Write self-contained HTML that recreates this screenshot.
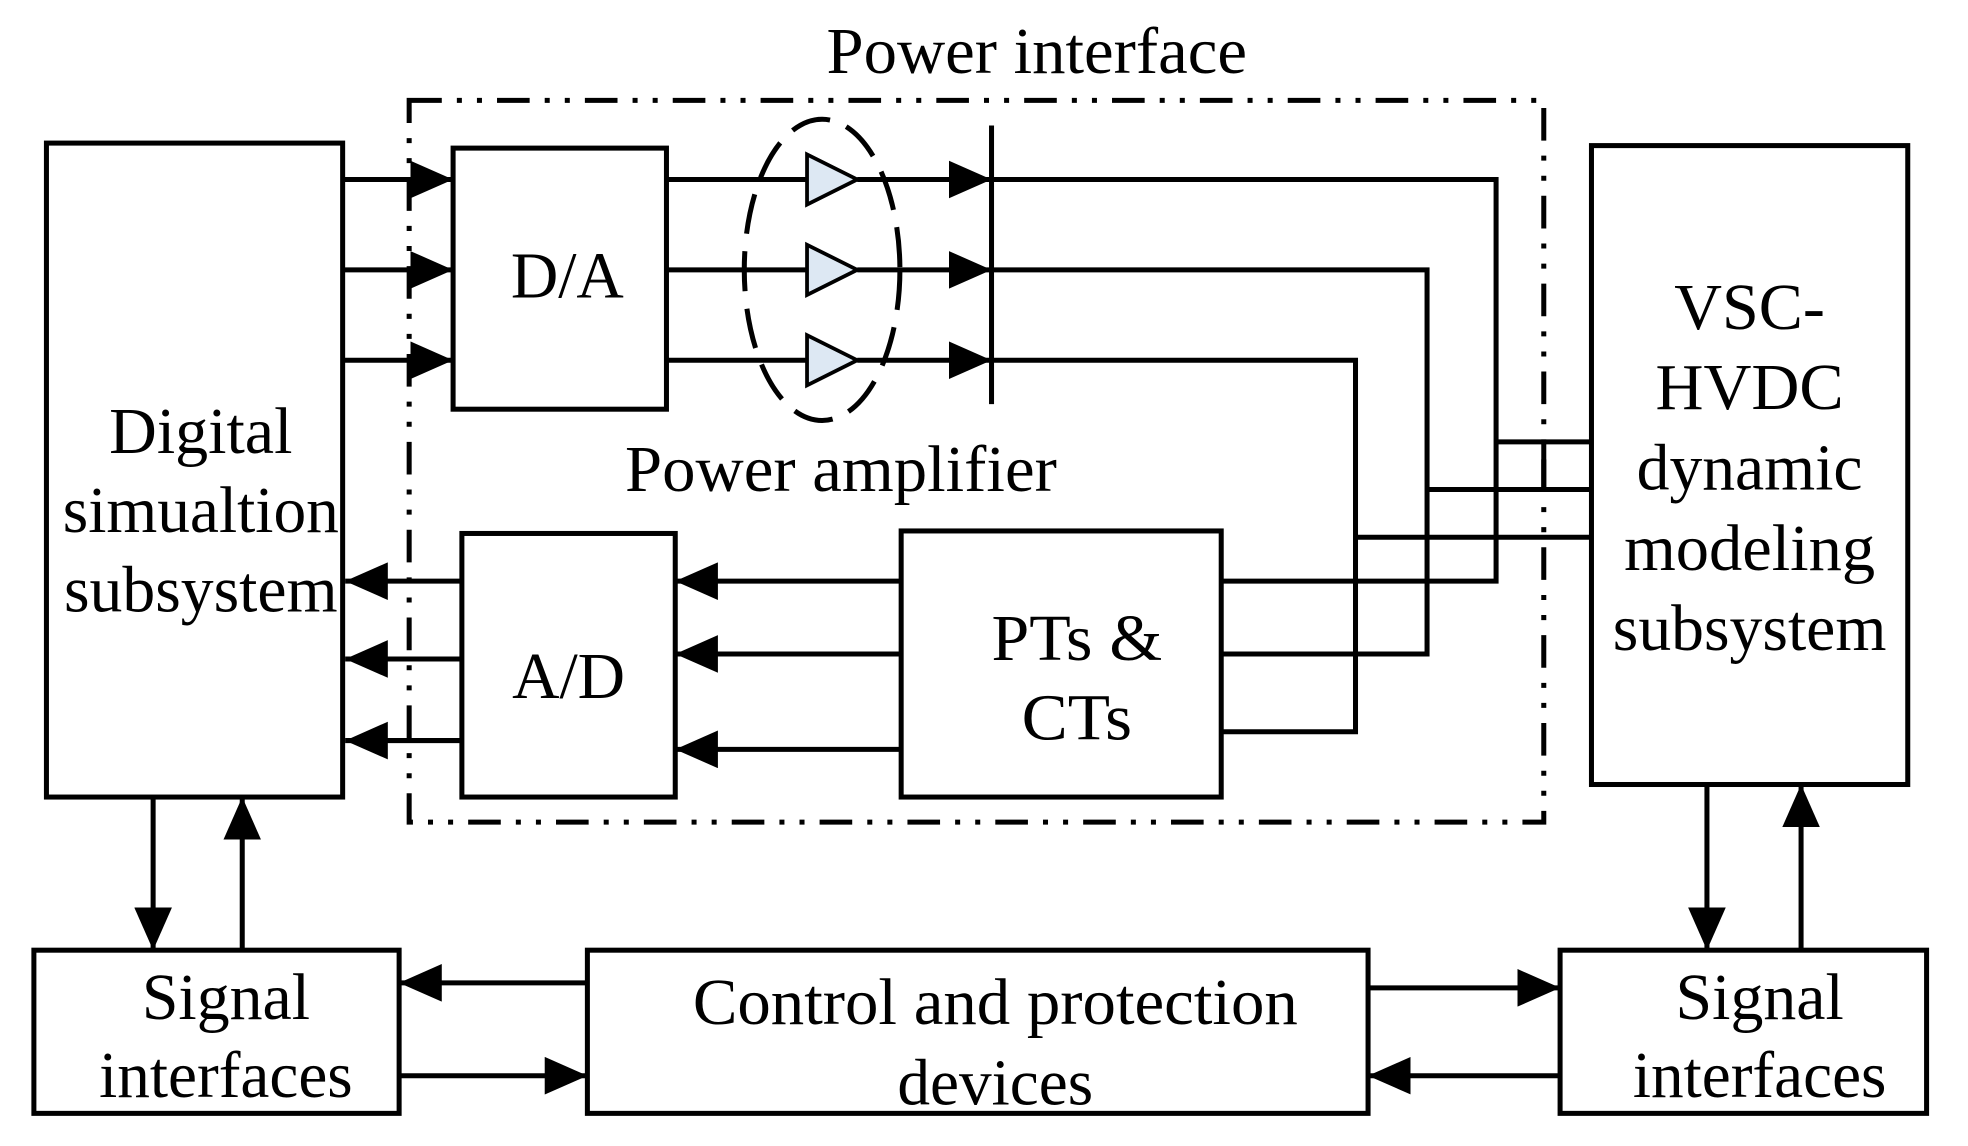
<!DOCTYPE html>
<html><head><style>html,body{margin:0;padding:0;background:#fff}svg{display:block}</style></head><body>
<svg width="1968" height="1146" viewBox="0 0 1568 913" preserveAspectRatio="none" xmlns="http://www.w3.org/2000/svg">
<defs>
<marker id="b" viewBox="0 0 10 10" refX="10" refY="5" markerWidth="34" markerHeight="30" markerUnits="userSpaceOnUse" orient="auto" preserveAspectRatio="none"><path d="M0,0L10,5L0,10z" fill="#000"/></marker></defs>
<g fill="none" stroke="#000" stroke-width="4">
<rect x="37" y="114" width="236" height="521"/>
<rect x="361" y="118" width="170" height="208"/>
<rect x="368" y="425" width="170" height="210"/>
<rect x="718" y="423" width="255" height="212"/>
<rect x="1268" y="116" width="252" height="509"/>
<rect x="27" y="757" width="291" height="130"/>
<rect x="468" y="757" width="622" height="130"/>
<rect x="1243" y="757" width="292" height="130"/>
<rect x="326" y="80" width="904" height="575" stroke-width="4" stroke-dasharray="26,12,4,12,4,12"/>
<ellipse cx="655" cy="215" rx="62" ry="120" stroke-width="4" stroke-dasharray="32,14"/>
<line x1="790" y1="100" x2="790" y2="322"/>
<g marker-end="url(#b)">
<line x1="273" y1="143" x2="361" y2="143"/><line x1="273" y1="215" x2="361" y2="215"/><line x1="273" y1="287" x2="361" y2="287"/>
<line x1="683" y1="143" x2="790" y2="143"/><line x1="683" y1="215" x2="790" y2="215"/><line x1="683" y1="287" x2="790" y2="287"/>
<line x1="718" y1="463" x2="538" y2="463"/><line x1="718" y1="521" x2="538" y2="521"/><line x1="718" y1="597" x2="538" y2="597"/>
<line x1="368" y1="463" x2="275" y2="463"/><line x1="368" y1="525" x2="275" y2="525"/><line x1="368" y1="590" x2="275" y2="590"/>
<line x1="122" y1="635" x2="122" y2="757"/><line x1="193" y1="757" x2="193" y2="635"/>
<line x1="1360" y1="625" x2="1360" y2="757"/><line x1="1435" y1="757" x2="1435" y2="625"/>
<line x1="468" y1="783" x2="318" y2="783"/><line x1="318" y1="857" x2="468" y2="857"/>
<line x1="1090" y1="787" x2="1243" y2="787"/><line x1="1243" y1="857" x2="1090" y2="857"/>
</g>
<line x1="531" y1="143" x2="643" y2="143"/><line x1="531" y1="215" x2="643" y2="215"/><line x1="531" y1="287" x2="643" y2="287"/>
<polyline points="790,143 1192,143 1192,463 973,463"/>
<polyline points="790,215 1137,215 1137,521 973,521"/>
<polyline points="790,287 1080,287 1080,583 973,583"/>
<line x1="1192" y1="352" x2="1268" y2="352"/><line x1="1137" y1="390" x2="1268" y2="390"/><line x1="1080" y1="428" x2="1268" y2="428"/>
<line x1="1230" y1="352" x2="1230" y2="390"/>
</g>
<g fill="#dde8f3" stroke="#000" stroke-width="3">
<path d="M643,123L683,143L643,163z"/><path d="M643,195L683,215L643,235z"/><path d="M643,267L683,287L643,307z"/>
</g>
<g font-family="Liberation Serif, serif" font-size="52" text-anchor="middle" fill="#000" lengthAdjust="spacingAndGlyphs">
<text x="826" y="58" textLength="335" lengthAdjust="spacingAndGlyphs">Power interface</text>
<text x="452" y="237" textLength="90" lengthAdjust="spacingAndGlyphs">D/A</text>
<text x="453" y="556" textLength="90" lengthAdjust="spacingAndGlyphs">A/D</text>
<text x="670" y="391" textLength="344" lengthAdjust="spacingAndGlyphs">Power amplifier</text>
<text x="160" y="361" textLength="146" lengthAdjust="spacingAndGlyphs">Digital</text>
<text x="160" y="424" textLength="220" lengthAdjust="spacingAndGlyphs">simualtion</text>
<text x="160" y="487" textLength="218" lengthAdjust="spacingAndGlyphs">subsystem</text>
<text x="858" y="526" textLength="136" lengthAdjust="spacingAndGlyphs">PTs &amp;</text>
<text x="858" y="589" textLength="88" lengthAdjust="spacingAndGlyphs">CTs</text>
<text x="1394" y="262" textLength="120" lengthAdjust="spacingAndGlyphs">VSC-</text>
<text x="1394" y="326" textLength="150" lengthAdjust="spacingAndGlyphs">HVDC</text>
<text x="1394" y="390" textLength="180" lengthAdjust="spacingAndGlyphs">dynamic</text>
<text x="1394" y="454" textLength="200" lengthAdjust="spacingAndGlyphs">modeling</text>
<text x="1394" y="518" textLength="218" lengthAdjust="spacingAndGlyphs">subsystem</text>
<text x="180" y="812" textLength="134" lengthAdjust="spacingAndGlyphs">Signal</text>
<text x="180" y="874" textLength="202" lengthAdjust="spacingAndGlyphs">interfaces</text>
<text x="793" y="816" textLength="482" lengthAdjust="spacingAndGlyphs">Control and protection</text>
<text x="793" y="880" textLength="156" lengthAdjust="spacingAndGlyphs">devices</text>
<text x="1402" y="812" textLength="134" lengthAdjust="spacingAndGlyphs">Signal</text>
<text x="1402" y="874" textLength="202" lengthAdjust="spacingAndGlyphs">interfaces</text>
</g>
</svg>
</body></html>
